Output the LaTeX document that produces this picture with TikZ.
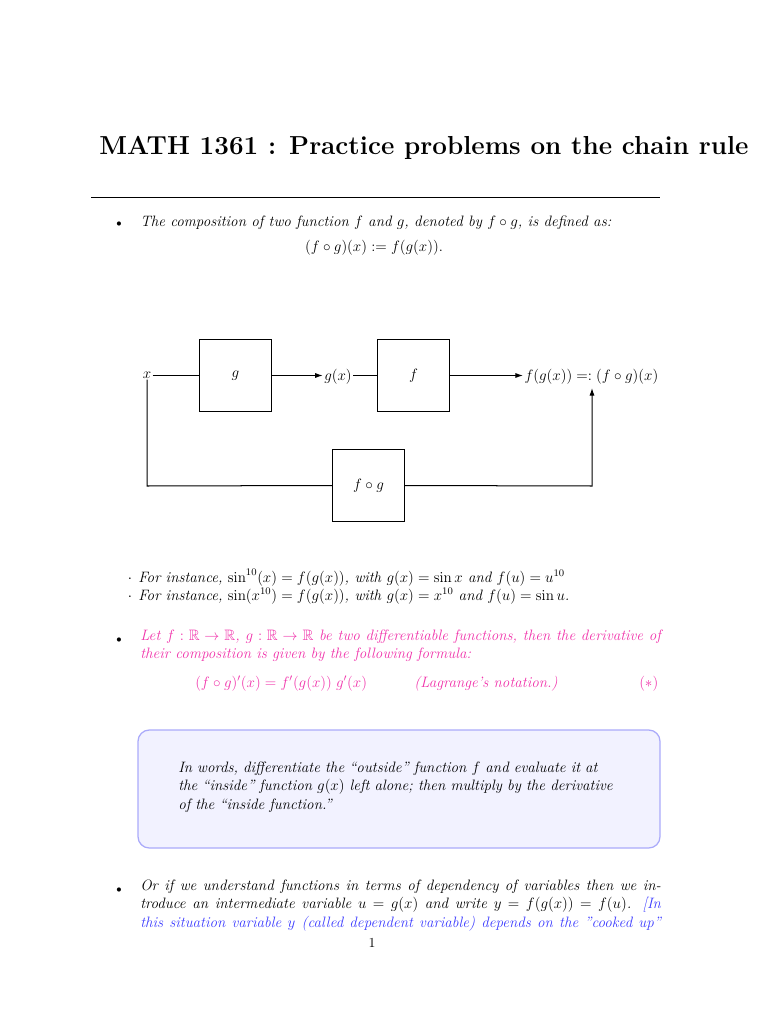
\documentclass[12pt,tikz,border=0pt]{standalone}
\usepackage{amsmath,amssymb}
\usetikzlibrary{arrows.meta}
\definecolor{pinkt}{RGB}{240,50,170}
\definecolor{bluet}{RGB}{60,60,255}
\definecolor{boxfill}{RGB}{242,242,255}
\definecolor{boxline}{RGB}{170,170,250}
\newcommand\mybls{\baselineskip=14.4pt\relax}
\begin{document}
\begin{tikzpicture}[x=0.7969pt,y=-0.7969pt,
  blk/.style={draw,line width=0.8pt,minimum width=56.6pt,minimum height=58pt,inner sep=0},
  txt/.style={anchor=base west,inner sep=0,font=\itshape},
  bul/.style={anchor=base,inner sep=0},
  par/.style={anchor=north west,inner sep=0,text width=415pt,align=justify,font=\itshape\mybls},
  wire/.style={line width=0.8pt},
  arr/.style={line width=0.8pt,-{Latex[length=6pt,width=4pt]}}]
\useasboundingbox (0,0) rectangle (768,1024);
\node[anchor=base west,inner sep=0,font=\LARGE\bfseries] (title) at (99,155) {MATH 1361 : Practice problems on the chain rule};
\draw[line width=0.6pt] (91,197) -- (660,197);
\node[bul] (b1) at (119,227) {$\scriptstyle\bullet$};
\node[txt] (t1) at (140,227) {The composition of two function $f$ and $g$, denoted by $f\circ g$, is defined as:};
\node[anchor=base,inner sep=0] (d1) at (374,252) {$(f\circ g)(x) := f(g(x)).$};
% diagram
\node[inner sep=1pt] (x) at (147,375) {$x$};
\node[blk] (g) at (235.5,375.5) {$g$};
\node[inner sep=1pt] (gx) at (338,377) {$g(x)$};
\node[blk] (f) at (413.5,375.5) {$f$};
\node[anchor=west,inner sep=1pt] (fgx) at (523,377) {$f(g(x)) =: (f\circ g)(x)$};
\node[blk] (fg) at (368.5,485.5) {$f\circ g$};
\coordinate (c1) at (147,486);
\coordinate (c2) at (592,486);
\coordinate (c3) at (592,388);
\draw[wire] (x.east) -- (x.east -| g.west);
\draw[arr] (g.east) -- (g.east -| gx.west);
\draw[wire] (gx.east |- f.west) -- (f.west);
\draw[arr] (f.east) -- (f.east -| fgx.west);
\draw[wire] (x.south) -- (c1) -- (fg.west);
\draw[arr] (fg.east) -- (c2) -- (c3);
% examples
\node[bul] (e1b) at (130,582) {$\cdot$};
\node[txt] (e1) at (138,582) {For instance, $\sin^{10}(x)=f(g(x))$, with $g(x)=\sin x$ and $f(u)=u^{10}$};
\node[bul] (e2b) at (130,600) {$\cdot$};
\node[txt] (e2) at (138,600) {For instance, $\sin(x^{10})=f(g(x))$, with $g(x)=x^{10}$ and $f(u)=\sin u$.};
% pink
\node[bul] (b2) at (119,642) {$\scriptstyle\bullet$};
\node[par,text=pinkt] (p2) at (140,630) {Let $f:\mathbb{R}\to\mathbb{R}$, $g:\mathbb{R}\to\mathbb{R}$ be two differentiable functions, then the derivative of their composition is given by the following formula:};
\node[txt,text=pinkt] (fm) at (195,687) {$(f\circ g)'(x)=f'(g(x))\;g'(x)$};
\node[txt,text=pinkt] (fn) at (414,687) {(Lagrange's notation.)};
\node[txt,text=pinkt] (fs) at (639,687) {$(*)$};
% box
\draw[draw=boxline,fill=boxfill,line width=1pt,rounded corners=9pt] (138,730) rectangle (660,848);
\node[anchor=north west,inner sep=0,text width=352pt,align=left,font=\itshape\mybls] (bx) at (178,762) {In words, differentiate the ``outside'' function $f$ and evaluate it at the ``inside'' function $g(x)$ left alone; then multiply by the derivative of the ``inside function.''};
% last
\node[bul] (b3) at (119,892) {$\scriptstyle\bullet$};
\node[par] (p3) at (140,880) {Or if we understand functions in terms of dependency of variables then we introduce an intermediate variable $u=g(x)$ and write $y=f(g(x))=f(u)$. \textcolor{bluet}{[In this situation variable $y$ (called dependent variable) depends on the "cooked up"}{\parfillskip=0pt\par}};
\node[anchor=base,inner sep=0,font=\small] (pg) at (372,947) {1};
\end{tikzpicture}
\end{document}
